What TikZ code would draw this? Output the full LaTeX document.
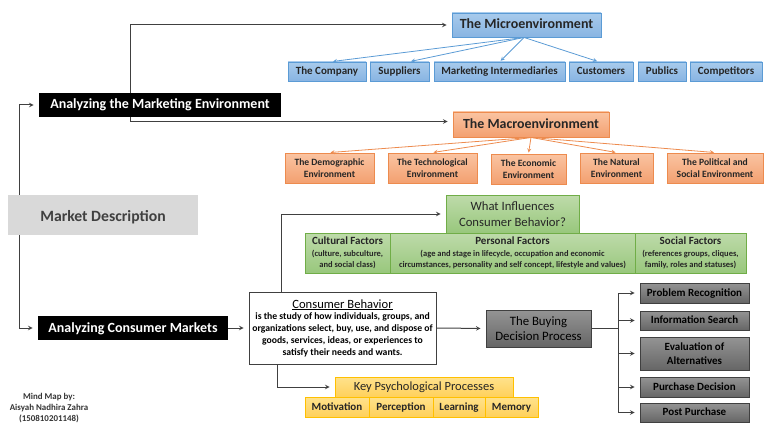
\documentclass[tikz,border=0pt]{standalone}
\usepackage{fontspec}
\setmainfont{Carlito}
\usetikzlibrary{arrows}
\definecolor{linegray}{HTML}{404040}
\definecolor{blueline}{HTML}{5B9BD5}
\definecolor{orangeline}{HTML}{ED8B4E}
\definecolor{greenline}{HTML}{70AD47}
\definecolor{yellowline}{HTML}{FFC000}
\tikzset{size/.style 2 args={minimum width=#1, minimum height=#2}}
\tikzstyle{base} = [rectangle, inner sep=0pt, align=center, line width=0.9pt]
\tikzstyle{single} = [text height=9pt, text depth=3pt]
\tikzstyle{black box} = [base, fill=black, text=white, text height=10pt, text depth=2pt, font=\fontsize{14}{16}\selectfont\bfseries]
\tikzstyle{blue head} = [base, draw=blueline, top color={rgb,255:red,168;green,203;blue,236}, bottom color={rgb,255:red,136;green,180;blue,226}, text=black!85, text height=11pt, text depth=3pt, font=\fontsize{14}{18}\selectfont\bfseries]
\tikzstyle{blue box} = [blue head, text height=9pt, text depth=2pt, font=\fontsize{11}{13}\selectfont\bfseries]
\tikzstyle{orange head} = [base, draw=orangeline, top color={rgb,255:red,250;green,196;blue,162}, bottom color={rgb,255:red,243;green,160;blue,112}, text=black!85, font=\fontsize{13.9}{18}\selectfont\bfseries]
\tikzstyle{orange box} = [orange head, font=\fontsize{9.6}{12}\selectfont\bfseries]
\tikzstyle{green box} = [base, draw=greenline, top color={rgb,255:red,190;green,219;blue,170}, bottom color={rgb,255:red,152;green,199;blue,124}, text=black!85, font=\fontsize{11}{11.4}\selectfont]
\tikzstyle{yellow box} = [base, single, draw=yellowline, top color={rgb,255:red,255;green,226;blue,140}, bottom color={rgb,255:red,255;green,208;blue,90}, text=black!85, font=\fontsize{11}{13}\selectfont\bfseries]
\tikzstyle{gray box} = [base, draw=linegray, top color=black!42, bottom color=black!60, text=black, font=\fontsize{11}{14.5}\selectfont\bfseries]
\tikzstyle{arrow} = [draw=linegray, line width=1pt, ->, >=stealth, shorten >=5pt]
\tikzstyle{blue arrow} = [draw=blueline, line width=0.8pt, ->, >=stealth, shorten >=1pt]
\tikzstyle{orange arrow} = [draw=orangeline, line width=0.8pt, ->, >=stealth, shorten >=1pt]
\newcommand{\smalltext}[1]{{\fontsize{8.5}{11}\selectfont\bfseries #1}}
\begin{document}
\begin{tikzpicture}[x=1pt, y=-1pt]
  \useasboundingbox (0,0) rectangle (768,433);

  \node (market) [base, fill=black!15, text=black!75, text height=14pt, text depth=2pt, font=\fontsize{15.7}{18}\selectfont\bfseries, size={190}{40}] at (103,215) {Market Description}; %
  \node (env) [black box, size={242}{24}] at (160,105) {Analyzing the Marketing Environment}; %
  \node (markets) [black box, size={190}{24}] at (133,328) {Analyzing Consumer Markets}; %

  %% Microenvironment
  \node (micro)       [blue head, size={149}{24}] at (526.5,25)  {The Microenvironment}; %
  \node (company)     [blue box, size={78}{19}]   at (327,71.5)  {The Company}; %
  \node (suppliers)   [blue box, size={59}{19}]   at (399.5,71.5) {Suppliers}; %
  \node (marketing)   [blue box, size={131}{19}]  at (499.5,71.5) {Marketing Intermediaries}; %
  \node (customers)   [blue box, size={64}{19}]   at (601,71.5)  {Customers}; %
  \node (publics)     [blue box, size={48}{19}]   at (662,71.5)  {Publics}; %
  \node (competitors) [blue box, size={72}{19}]   at (726,71.5)  {Competitors}; %

  %% Macroenvironment
  \node (macro)       [orange head, text height=11pt, text depth=3pt, size={156}{25}] at (531,124.5) {The Macroenvironment}; %
  \node (demographic) [orange box, size={89}{30}] at (329.5,168) {The Demographic\\Environment}; %
  \node (technology)  [orange box, size={89}{30}] at (432.5,168) {The Technological\\Environment}; %
  \node (economic)    [orange box, size={75}{30}] at (528.5,169) {The Economic\\Environment}; %
  \node (natural)     [orange box, size={73}{30}] at (616.5,168) {The Natural\\Environment}; %
  \node (political)   [orange box, size={96}{30}] at (715,168)   {The Political and\\Social Environment}; %

  %% Influences
  \node (influences) [green box, font=\fontsize{12.7}{15.5}\selectfont, size={133}{38}] at (512.5,214) {What Influences\\Consumer Behavior?}; %
  \node (cultural)   [green box, size={85}{40}]  at (347.5,253) {\textbf{Cultural Factors}\\\smalltext{(culture, subculture,}\\\smalltext{and social class)}}; %
  \node (personal)   [green box, size={245}{40}] at (512.5,253) {\textbf{Personal Factors}\\\smalltext{(age and stage in lifecycle, occupation and economic}\\\smalltext{circumstances, personality and self concept, lifestyle and values)}}; %
  \node (social)     [green box, size={111}{40}] at (690.5,253) {\textbf{Social Factors}\\\smalltext{(references groups, cliques,}\\\smalltext{family, roles and statuses)}}; %

  %% Consumer behavior
  \node (behavior) [base, draw=linegray, fill=white, size={187}{72}, font=\fontsize{9.7}{11.8}\selectfont\bfseries] at (342.5,328) {{\fontsize{12.6}{13}\selectfont\mdseries\underline{Consumer Behavior}}\\is the study of how individuals, groups, and\\organizations select, buy, use, and dispose of\\goods, services, ideas, or experiences to\\satisfy their needs and wants.}; %
  \node (psych)      [yellow box, font=\fontsize{12.5}{15}\selectfont, size={178}{20}] at (424,387) {Key Psychological Processes}; %
  \node (motivation) [yellow box, size={64}{20}] at (337,407)   {Motivation}; %
  \node (perception) [yellow box, size={64}{20}] at (401,407)   {Perception}; %
  \node (learning)   [yellow box, size={52}{20}] at (459,407)   {Learning}; %
  \node (memory)     [yellow box, size={53}{20}] at (511.5,407) {Memory}; %

  %% Buying decision
  \node (buying)   [gray box, font=\fontsize{12.8}{15.5}\selectfont, size={105}{37}] at (538.5,328.5) {The Buying\\Decision Process}; %
  \node (problem)  [gray box, single, size={109}{20}] at (694.5,293)   {Problem Recognition}; %
  \node (search)   [gray box, single, size={109}{19}] at (694.5,320.5) {Information Search}; %
  \node (evaluate) [gray box, size={109}{33}] at (694.5,353.5) {Evaluation of\\Alternatives}; %
  \node (decision) [gray box, single, size={109}{20}] at (694.5,387)   {Purchase Decision}; %
  \node (post)     [gray box, single, size={109}{19}] at (694.5,412.5) {Post Purchase}; %
  \coordinate (bus) at (618,328.5); %

  \node (credit) [align=center, inner sep=0pt, text=black!80, font=\fontsize{8.9}{11}\selectfont\bfseries] at (49,408) {Mind Map by:\\Aisyah Nadhira Zahra\\(150810201148)}; %

  %% Connections
  \draw [arrow] ([xshift=-84]market.north) |- (env.west); %
  \draw [arrow] ([xshift=-84]market.south) |- (markets.west); %
  \draw [arrow] ([xshift=-30]env.north) |- (micro.west); %
  \draw [arrow] ([xshift=-30]env.south) |- ([yshift=3]macro.west); %
  \draw [arrow] (markets.east) -- (behavior.west |- markets.east); %
  \draw [arrow] ([xshift=-61.5]behavior.north) |- (influences.west); %
  \draw [arrow] ([xshift=-65.5]behavior.south) |- (psych.west); %
  \draw [arrow] (behavior.east) -- (buying.west); %
  \draw [linegray, line width=1pt] (buying.east) -- (bus); %
  \draw [arrow] (bus) |- (problem.west); %
  \draw [arrow] (bus) |- (search.west); %
  \draw [arrow] (bus) |- (evaluate.west); %
  \draw [arrow] (bus) |- (decision.west); %
  \draw [arrow] (bus) |- (post.west); %
  \foreach \child/\dx in {company/5, suppliers/10.5, marketing/0.5, customers/-3}
    \draw [blue arrow] ([xshift=-2.5]micro.south) -- ([xshift=\dx]\child.north); %
  \foreach \child in {demographic, technology, economic, natural, political}
    \draw [orange arrow] (macro.south) -- (\child.north); %
\end{tikzpicture}
\end{document}
